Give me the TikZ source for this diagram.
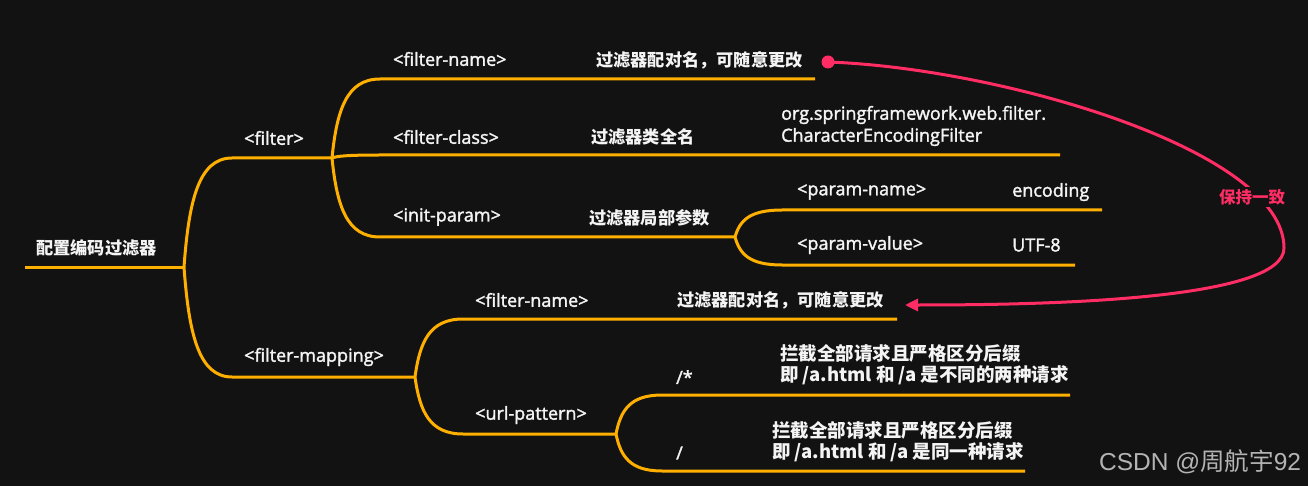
\documentclass[tikz,border=0pt]{standalone}
\usepackage{fontspec}
\setmainfont{Open Sans}[FakeBold=1.8]
\newfontfamily\cjk{Noto Sans CJK SC}
\newfontfamily\wmfont{Liberation Sans}
\usetikzlibrary{calc,arrows.meta}
\definecolor{bg}{HTML}{121212}
\definecolor{br}{HTML}{FFAF00}
\definecolor{pk}{HTML}{FF2D64}
\definecolor{tx}{HTML}{F4F4F4}
\definecolor{wm}{HTML}{B4B4B4}
\begin{document}
\begin{tikzpicture}[x=1pt,y=-1pt,
  ln/.style={draw=br,line width=3pt,line join=round},
  bcurve/.style={to path={let \p1=(\tikztostart),\p2=(\tikztotarget) in
     .. controls ({\x1+0.1*(\x2-\x1)},{\y1+0.6*(\y2-\y1)}) and ({\x1+0.3*(\x2-\x1)},\y2) .. (\tikztotarget)}},
  lt/.style={anchor=west,text=tx,font=\fontsize{18}{21}\selectfont,inner sep=0pt},
  ct/.style={anchor=west,text=tx,font=\cjk\bfseries\fontsize{17.2}{20}\selectfont,inner sep=0pt},
  ct2/.style={anchor=west,text=tx,font=\cjk\bfseries\fontsize{18.5}{21}\selectfont,inner sep=0pt},
]
\useasboundingbox (0,0) rectangle (1308,486);
\fill[bg] (0,0) rectangle (1308,486);

% coordinates
\coordinate (r0) at (25,267);   \coordinate (f0) at (184,267);
\coordinate (fA) at (232,158);  \coordinate (fB) at (332,158);
\coordinate (mA) at (232,377);  \coordinate (mB) at (415,377);
\coordinate (n1A) at (380,79);  \coordinate (n1B) at (815,79);
\coordinate (cA) at (380,155);  \coordinate (cB) at (1060,155);
\coordinate (iA) at (380,237);  \coordinate (iB) at (735,237);
\coordinate (pnA) at (782,210); \coordinate (pnB) at (1102,210);
\coordinate (pvA) at (782,265); \coordinate (pvB) at (1075,265);
\coordinate (n2A) at (463,319); \coordinate (n2B) at (897,319);
\coordinate (uA) at (463,434);  \coordinate (uB) at (616,434);
\coordinate (sA) at (662,395);  \coordinate (sB) at (1070,395);
\coordinate (tA) at (662,471);  \coordinate (tB) at (1025,471);

% branches
\draw[ln] (r0) -- (f0);
\draw[ln] (f0) to[bcurve] (fA) -- (fB);
\draw[ln] (f0) to[bcurve] (mA) -- (mB);
\draw[ln] (fB) to[bcurve] (n1A) -- (n1B);
\draw[ln] (fB) to[bcurve] (cA) -- (cB);
\draw[ln] (fB) to[bcurve] (iA) -- (iB);
\draw[ln] (iB) to[bcurve] (pnA) -- (pnB);
\draw[ln] (iB) to[bcurve] (pvA) -- (pvB);
\draw[ln] (mB) to[bcurve] (n2A) -- (n2B);
\draw[ln] (mB) to[bcurve] (uA) -- (uB);
\draw[ln] (uB) to[bcurve] (sA) -- (sB);
\draw[ln] (uB) to[bcurve] (tA) -- (tB);

% labels
\node[ct] (root) at (36,248) {配置编码过滤器};
\node[lt] (filter) at (244,138) {<filter>};
\node[lt] (mapping) at (244,357) {<filter-mapping>};
\node[lt] (fname1) at (393,59) {<filter-name>};
\node[ct] (fname1v) at (596,60) {过滤器配对名，可随意更改};
\node[lt] (fclass) at (393,137) {<filter-class>};
\node[ct] (fclassv) at (591,137) {过滤器类全名};
\node[lt] (fcl1) at (781,115) {org.springframework.web.filter.};
\node[lt] (fcl2) at (781,137) {CharacterEncodingFilter};
\node[lt] (iparam) at (393,217) {<init-param>};
\node[ct] (iparamv) at (589,218) {过滤器局部参数};
\node[lt] (pname) at (797,192) {<param-name>};
\node[lt] (enc) at (1012,192) {encoding};
\node[lt] (pvalue) at (797,245) {<param-value>};
\node[lt] (utf) at (1012,245) {UTF-8};
\node[lt] (fname2) at (475,300) {<filter-name>};
\node[ct] (fname2v) at (677,300) {过滤器配对名，可随意更改};
\node[lt] (url) at (475,415) {<url-pattern>};
\node[lt] (s1) at (676,377) {/*};
\node[ct2] (s1a) at (780,353) {拦截全部请求且严格区分后缀};
\node[ct2] (s1b) at (780,375) {即 /a.html 和 /a 是不同的两种请求};
\node[lt] (s2) at (676,453) {/};
\node[ct2] (s2a) at (772,430) {拦截全部请求且严格区分后缀};
\node[ct2] (s2b) at (772,452) {即 /a.html 和 /a 是同一种请求};

% keep-consistent connector
\node[circle,fill=pk,inner sep=0pt,minimum size=13pt] (dot) at (828,62) {};
\coordinate (far) at (1284,248);
\coordinate (tip) at (905,305);
\draw[pk,line width=3pt,-{Triangle[length=13pt,width=12pt]}]
  (dot.center) .. controls (1000,68) and (1284,150) .. (far)
  .. controls (1284,300) and (1050,305) .. (tip);
\node[fill=bg,text=pk,font=\cjk\bfseries\fontsize{16.5}{19}\selectfont,inner sep=2pt] (keep) at (1252,197) {保持一致};

% watermark
\node[anchor=west,text=wm,font=\wmfont\fontsize{24.5}{28}\selectfont,inner sep=0pt] (wmk) at (1099,462) {CSDN @{\cjk 周航宇}92};
\end{tikzpicture}
\end{document}
